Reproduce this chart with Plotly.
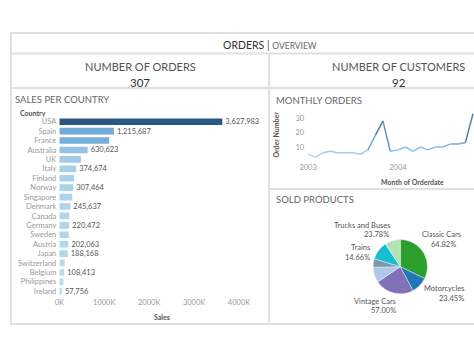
import plotly.graph_objects as go
from plotly.colors import sample_colorscale

# ---------------- data ----------------
countries = ["USA", "Spain", "France", "Australia", "UK", "Italy", "Finland", "Norway",
             "Singapore", "Denmark", "Canada", "Germany", "Sweden", "Austria", "Japan",
             "Switzerland", "Belgium", "Philippines", "Ireland"]
sales = [3627983, 1215687, 1110916, 630623, 478880, 374674, 329581, 307464,
         288488, 245637, 224078, 220472, 210014, 202063, 188168,
         117714, 108413, 94015, 57756]
labeled_countries = ["USA", "Spain", "Australia", "Italy", "Norway", "Denmark",
                     "Germany", "Austria", "Japan", "Belgium", "Ireland"]
sales_ticks = [0, 1000000, 2000000, 3000000, 4000000]
sales_tick_text = ["0K", "1000K", "2000K", "3000K", "4000K"]

months = ["2003-01", "2003-02", "2003-03", "2003-04", "2003-05", "2003-06",
          "2003-07", "2003-08", "2003-09", "2003-10", "2003-11", "2003-12",
          "2004-01", "2004-02", "2004-03", "2004-04", "2004-05", "2004-06",
          "2004-07", "2004-08", "2004-09", "2004-10", "2004-11"]
orders = [5, 3, 6, 7, 6, 6, 6, 5, 8, 18, 28, 7,
          8, 10, 7, 10, 8, 10, 10, 12, 12, 13, 33]

products = ["Classic Cars", "Motorcycles", "Vintage Cars", "Planes", "Ships",
            "Trains", "Trucks and Buses"]
product_share = [116, 36, 84, 33, 18, 40, 33]
product_colors = ["#2ca02c", "#1f77b4", "#8172b8", "#aec7e8", "#7b98ab",
                  "#17becf", "#b3e2b3"]
product_pct = {"Classic Cars": "64.82%", "Motorcycles": "23.45%",
               "Vintage Cars": "57.00%", "Trains": "14.66%",
               "Trucks and Buses": "23.78%"}

kpi_titles = ["NUMBER OF ORDERS", "NUMBER OF CUSTOMERS"]
kpi_values = ["307", "92"]

# ---------------- helpers ----------------
W, H = 474, 355
def px(x):
    return x / W
def py(y):
    return 1 - y / H

FONT = "Lato"
blue_scale = [[0, "#b9ddf1"], [0.35, "#6ca5d6"], [1, "#2a5783"]]

fig = go.Figure()

# ---------------- bar chart ----------------
smin, smax = min(sales), max(sales)
bar_colors = sample_colorscale(blue_scale, [(s - smin) / (smax - smin) for s in sales])
bar_text = [f"{s:,}" if c in labeled_countries else "" for c, s in zip(countries, sales)]
fig.add_trace(go.Bar(
    x=sales, y=countries, orientation="h",
    marker=dict(color=bar_colors, line=dict(width=0)),
    text=bar_text, textposition="outside", constraintext="none", cliponaxis=False,
    textfont=dict(size=7.5, color="#555555", family=FONT),
    xaxis="x", yaxis="y", showlegend=False, hoverinfo="x+y"))

# ---------------- line chart ----------------
omin, omax = min(orders), max(orders)
for i in range(len(orders) - 1):
    mid = (orders[i] + orders[i + 1]) / 2
    col = sample_colorscale(blue_scale, [(mid - omin) / (omax - omin)])[0]
    fig.add_trace(go.Scatter(
        x=[months[i], months[i + 1]], y=[orders[i], orders[i + 1]],
        mode="lines", line=dict(color=col, width=1.5),
        xaxis="x2", yaxis="y2", showlegend=False, hoverinfo="x+y"))

# ---------------- pie ----------------
cx, cy, r = 399.3, 266.7, 27.5
fig.add_trace(go.Pie(
    labels=products, values=product_share, sort=False, direction="clockwise",
    rotation=0, textinfo="none", hole=0,
    marker=dict(colors=product_colors, line=dict(color="white", width=0.4)),
    domain=dict(x=[px(cx - r), px(cx + r)], y=[py(cy + r), py(cy - r)]),
    showlegend=False))

# ---------------- layout ----------------
axis_font = dict(family=FONT, size=7.5, color="#9a9a9a")
fig.update_layout(
    width=W, height=H, margin=dict(l=0, r=0, t=0, b=0),
    paper_bgcolor="white", plot_bgcolor="white",
    font=dict(family=FONT, color="#555555"),
    bargap=0.3,
    xaxis=dict(domain=[px(54), px(262)], range=[0, 4.571e6], tickvals=sales_ticks,
               ticktext=sales_tick_text, tickfont=axis_font, showgrid=False,
               zeroline=False, showline=False, ticks="", anchor="y"),
    yaxis=dict(domain=[py(296), py(117)], autorange="reversed", tickfont=axis_font,
               showgrid=False, zeroline=False, showline=False, ticks="",
               ticklabelstandoff=2, anchor="x"),
    xaxis2=dict(domain=[px(303), 1], range=["2002-12-20", "2004-11-05"],
                type="date", tickvals=["2003-01-01", "2004-01-01"],
                ticktext=["2003", "2004"], tickfont=axis_font, showgrid=False,
                zeroline=False, showline=False, ticks="", anchor="y2"),
    yaxis2=dict(domain=[py(161.5), py(110)], range=[0, 35.5], tickvals=[10, 20, 30],
                tickfont=axis_font, showgrid=False, zeroline=False, showline=False,
                ticks="", anchor="x2"),
)

# ---------------- borders ----------------
bc = "#e0e0e0"
shapes = [
    dict(type="rect", x0=px(5), x1=px(480), y0=py(324), y1=py(33)),
    dict(type="line", x0=px(5), x1=px(480), y0=py(53.5), y1=py(53.5)),
    dict(type="line", x0=px(5), x1=px(480), y0=py(88), y1=py(88)),
    dict(type="line", x0=px(266.5), x1=px(266.5), y0=py(324), y1=py(53.5)),
    dict(type="line", x0=px(266.5), x1=px(480), y0=py(189), y1=py(189)),
]
for s in shapes:
    s.update(xref="paper", yref="paper", line=dict(color=bc, width=2))
fig.update_layout(shapes=shapes)

# ---------------- text ----------------
ann = []
def text(x, y, t, size, color="#555555", xanchor="center", textangle=0):
    ann.append(dict(x=px(x), y=py(y), xref="paper", yref="paper", text=t,
                    showarrow=False, xanchor=xanchor, yanchor="middle",
                    textangle=textangle,
                    font=dict(family=FONT, size=size, color=color)))

text(267, 45, "<span style='color:#333333'>ORDERS</span> | "
              "<span style='font-size:8.5px;color:#666666'>OVERVIEW</span>", 10.5, "#555555")
text(136, 67, kpi_titles[0], 11, "#555555")
text(136, 82, kpi_values[0], 11.5, "#333333")
text(398, 67, kpi_titles[1], 11, "#555555")
text(398, 82, kpi_values[1], 11.5, "#333333")

text(7, 99, "SALES PER COUNTRY", 9.5, "#666666", xanchor="left")
text(12, 113, "<b>Country</b>", 7, "#555555", xanchor="left")
text(158, 317, "<b>Sales</b>", 7, "#555555")

text(271, 100, "MONTHLY ORDERS", 9.5, "#666666", xanchor="left")
text(273, 135, "<b>Order Number</b>", 7, "#555555", textangle=-90)
text(412, 182, "<b>Month of Orderdate</b>", 7, "#555555")

text(271, 199, "SOLD PRODUCTS", 9.5, "#666666", xanchor="left")
label_pos = {"Trucks and Buses": ((361, 225), (375, 234)),
             "Trains": ((359, 248), (356, 257)),
             "Classic Cars": ((441, 234), (443, 244)),
             "Motorcycles": ((444, 288), (451, 298)),
             "Vintage Cars": ((374, 301), (382, 310))}
for name, pct in product_pct.items():
    (x1, y1), (x2, y2) = label_pos[name]
    text(x1, y1, name, 7.5, "#555555")
    text(x2, y2, pct, 7.5, "#555555")

fig.update_layout(annotations=ann)

fig.write_html("out.html", config={"displayModeBar": False},
               post_script="document.body.style.margin='0px';")
